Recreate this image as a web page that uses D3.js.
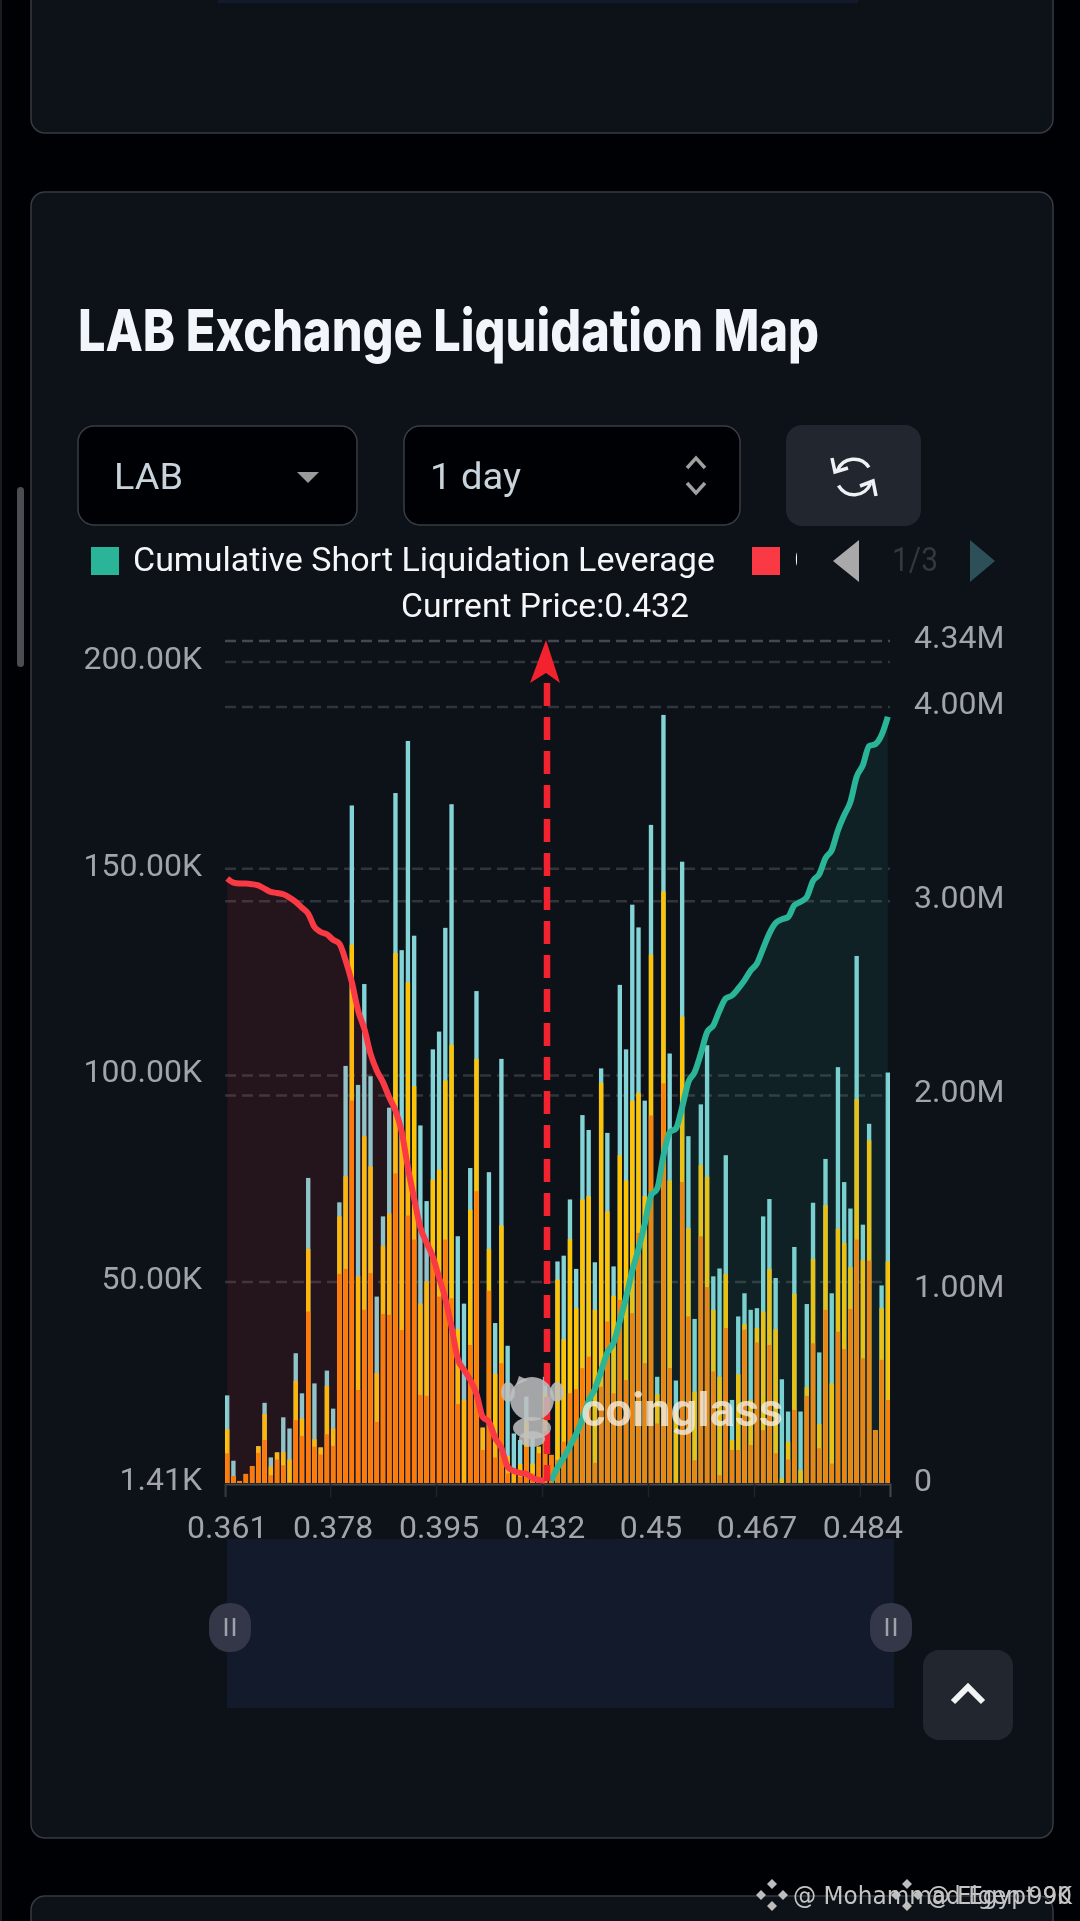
<!DOCTYPE html>
<html>
<head>
<meta charset="utf-8">
<title>LAB Exchange Liquidation Map</title>
<script src="https://cdn.jsdelivr.net/npm/d3@7/dist/d3.min.js"></script>
<style>
html, body { margin: 0; padding: 0; background: #000104; }
svg { display: block; filter: blur(0.5px); }
text { font-family: Roboto, sans-serif; }
</style>
</head>
<body>
<div id="viz"></div>
<script>
// left axis ticks (K) and right axis ticks (M), as printed
var leftTicks = [1.41, 50, 100, 150, 200];
var rightTicks = [0, 1, 2, 3, 4, 4.34];
var priceLabels = ["0.361", "0.378", "0.395", "0.432", "0.45", "0.467", "0.484"];
var priceBins = [0, 17, 34, 51, 68, 85, 102];

// stacked bars, top of each colour (K)
var orangeLevel = [8.6,3.1,1.9,3.6,5.5,8.7,11.8,3.3,7.1,5.7,
    1.6,16.6,12.8,42.9,10.2,8.3,13.2,10.4,52.0,53.2,
    93.9,23.9,43.3,52.2,16.2,42.3,42.1,76.3,38.4,66.1,
    60.3,22.7,22.5,56.2,46.5,60.3,46.1,20.5,1.5,34.8,
    72.0,9.4,47.9,7.6,30.4,3.7,1.5,2.9,10.2,3.7,
    8.6,18.3,8.2,7.0,11.4,23.1,24.1,29.2,32.0,6.3,
    24.7,40.5,23.1,45.7,26.3,42.5,61.9,30.4,90.3,15.8,
    98.1,29.2,1.5,74.2,41.7,6.9,61.1,48.8,28.4,3.3,
    38.9,9.4,9.4,38.5,10.6,35.4,14.2,34.8,8.6,1.4,
    7.1,19.1,1.4,22.5,35.2,9.8,43.3,6.1,38.0,33.8,
    43.5,60.3,31.6,55.2,14.2,31.2,21.5];
var yellowLevel = [14.4,3.1,1.9,3.6,5.5,10.3,18.1,5.4,8.8,8.9,
    7.1,26.1,17.0,58.0,12.0,10.0,24.9,14.6,65.9,75.6,
    131.6,51.4,85.3,78.0,28.0,58.8,66.6,129.6,86.1,122.5,
    97.4,44.8,50.2,74.8,77.2,98.8,107.4,38.6,21.5,67.5,
    104.0,14.8,58.0,27.8,63.7,7.9,3.7,6.0,16.2,6.1,
    10.2,23.1,8.2,50.6,36.2,60.4,43.7,70.0,70.8,43.3,
    98.2,67.1,46.7,80.7,74.6,93.9,95.8,70.8,129.2,22.9,
    144.5,74.6,18.7,114.2,63.1,23.5,78.3,75.5,43.3,27.1,
    52.0,11.8,27.7,39.9,21.5,38.9,42.9,53.2,38.6,2.5,
    11.4,47.2,4.5,24.6,55.6,15.7,68.6,25.5,62.9,59.5,
    53.6,94.3,55.4,84.3,14.2,43.7,55.0];
var tealLevel = [22.6,6.8,1.9,3.6,5.5,10.3,20.8,7.6,8.8,17.3,
    14.6,32.8,23.1,75.2,25.5,10.0,28.6,19.4,69.3,102.3,
    165.3,97.7,122.1,99.8,46.5,65.9,92.2,168.3,130.3,180.9,
    133.8,87.9,69.6,106.3,110.6,135.7,165.6,61.1,44.8,77.6,
    120.4,14.8,76.6,40.1,104.0,34.6,13.4,11.8,22.3,12.6,
    10.2,27.1,8.2,55.0,56.4,70.0,53.2,90.4,86.8,54.8,
    101.7,86.1,53.8,121.9,106.3,141.3,135.8,93.9,160.6,27.1,
    187.2,105.3,26.2,151.7,85.3,41.1,93.0,107.3,51.4,53.3,
    80.7,21.5,41.7,47.3,43.3,43.7,65.9,70.1,51.0,26.5,
    18.7,58.5,18.7,44.7,69.2,33.0,79.8,47.3,102.0,74.2,
    67.8,128.9,63.9,88.3,14.2,49.2,100.7];

// cumulative lines (M), one value per bin: long side runs from bin 0, short side from bin 52
var cumulativeLong = [3.117,3.096,3.091,3.091,3.088,3.082,3.065,3.048,3.043,3.036,
    3.019,2.997,2.967,2.937,2.868,2.842,2.830,2.802,2.782,2.696,
    2.584,2.438,2.344,2.215,2.129,2.069,1.991,1.923,1.814,1.629,
    1.469,1.320,1.242,1.170,1.062,0.954,0.809,0.644,0.588,0.536,
    0.464,0.345,0.320,0.237,0.186,0.088,0.067,0.057,0.052,0.031,
    0.021,0.015];
var cumulativeShort = [0.015,0.084,0.136,0.196,0.258,0.335,0.428,0.490,
    0.582,0.677,0.728,0.840,0.960,1.098,1.211,1.340,1.485,1.521,
    1.691,1.811,1.830,1.940,2.069,2.120,2.216,2.326,2.361,2.438,
    2.500,2.515,2.551,2.593,2.644,2.680,2.758,2.835,2.888,2.907,
    2.919,2.979,2.997,3.022,3.105,3.139,3.222,3.263,3.366,3.443,
    3.512,3.641,3.701,3.799,3.809,3.856,3.950];
var shortStart = 52;

var w = 1080;
var h = 1921;
var plotLeft = 225;
var plotRight = 890;
var plotBottom = 1483;

var svg = d3.select("#viz").append("svg")
    .attr("width", w)
    .attr("height", h);

//// CARDS ////
function box(x, y, bw, bh, r, fill, stroke) {
    return svg.append("rect")
        .attr("x", x).attr("y", y)
        .attr("width", bw).attr("height", bh)
        .attr("rx", r)
        .attr("fill", fill)
        .attr("stroke", stroke || "none")
        .attr("stroke-width", stroke ? 1.5 : 0);
}

function label(str, x, y, size, fill, len) {
    var t = svg.append("text")
        .attr("x", x).attr("y", y)
        .attr("font-size", size)
        .attr("fill", fill)
        .text(str);
    if (len) {
        t.attr("textLength", len).attr("lengthAdjust", "spacingAndGlyphs");
    }
    return t;
}

function poly(points, fill) {
    return svg.append("polygon")
        .attr("points", points.map(function(p) { return p.join(","); }).join(" "))
        .attr("fill", fill);
}

box(31, -40, 1022, 173, 14, "#0d1118", "#363a42");
box(218, -10, 640, 13, 0, "#121a2b");
box(31, 192, 1022, 1646, 14, "#0d1118", "#363a42");
box(31, 1896, 1022, 80, 14, "#0d1118", "#363a42");

// scrollbar on the left edge
box(17, 487, 7, 180, 3.5, "#4a4d52");
box(0, 0, 2, h, 0, "#1a1c20");

//// HEADER ////
label("LAB Exchange Liquidation Map", 78, 351, 58, "#f2f5fa", 741)
    .style("font-family", "Inter, sans-serif")
    .attr("font-weight", 800);

box(78, 426, 279, 99, 16, "#000104", "#3a3d45");
box(404, 426, 336, 99, 16, "#000104", "#3a3d45");
box(786, 425, 135, 101, 16, "#22262e");

label("LAB", 114, 489, 37, "#c9d3dc", 69);
label("1 day", 430, 489, 37, "#c9d3dc", 91);
poly([[297, 472], [319, 472], [308, 483]], "#9a9a9a");

var chevron = d3.line();
[[[687, 468], [696, 458], [705, 468]], [[687, 483], [696, 493], [705, 483]]].forEach(function(c) {
    svg.append("path").attr("d", chevron(c))
        .attr("fill", "none").attr("stroke", "#a0a0a0").attr("stroke-width", 3.5);
});

// refresh icon
var iconArc = d3.arc().innerRadius(16).outerRadius(19.5);
svg.append("path").attr("transform", "translate(854,477)")
    .attr("d", iconArc({startAngle: -1.2, endAngle: 1.0})).attr("fill", "#eef2f5");
svg.append("path").attr("transform", "translate(854,477)")
    .attr("d", iconArc({startAngle: 1.95, endAngle: 4.2})).attr("fill", "#eef2f5");
[[[832, 458], [835, 472], [848, 468]], [[876, 496], [873, 481], [860, 486]]].forEach(function(c) {
    svg.append("path").attr("d", chevron(c))
        .attr("fill", "none").attr("stroke", "#eef2f5").attr("stroke-width", 3.5);
});

//// LEGEND ////
box(91, 547, 28, 28, 0, "#2bb598");
label("Cumulative Short Liquidation Leverage", 133, 571, 33, "#f4f6f8", 582);
box(752, 547, 28, 28, 0, "#f93a45");
label("C", 794, 571, 33, "#f4f6f8").attr("clip-path", "url(#legendCut)");
svg.append("clipPath").attr("id", "legendCut").append("rect")
    .attr("x", 790).attr("y", 540).attr("width", 7).attr("height", 40);
poly([[833, 561], [859, 540], [859, 582]], "#a9a9a9");
label("1/3", 892, 571, 33, "#34373b", 46);
poly([[970, 540], [995, 561], [970, 582]], "#2d4f58");

label("Current Price:0.432", 401, 617, 33, "#f4f6f8", 288);

//// SCALES ////
var xScale = d3.scaleBand()
    .domain(d3.range(tealLevel.length))
    .range([plotLeft, plotRight])
    .paddingInner(0.3);

var yLeft = d3.scaleLinear()
    .domain([1.41, 200])
    .range([plotBottom, 662]);

var yRight = d3.scaleLinear()
    .domain([0, 4.34])
    .range([plotBottom + 1, 641]);

//// GRID ////
function gridLines(ticks, scale) {
    svg.append("g").selectAll("line")
        .data(ticks.filter(function(d) { return d > 1.41; }))
        .enter()
        .append("line")
        .attr("x1", plotLeft)
        .attr("x2", plotRight)
        .attr("y1", function(d) { return scale(d); })
        .attr("y2", function(d) { return scale(d); })
        .attr("stroke", function(d) { return d === 4.34 ? "#45484e" : "#31343a"; })
        .attr("stroke-width", 2.5)
        .attr("stroke-dasharray", "11,6");
}
gridLines(leftTicks, yLeft);
gridLines(rightTicks, yRight);

//// BARS ////
function bars(levels, color) {
    svg.append("g").selectAll("rect")
        .data(levels)
        .enter()
        .append("rect")
        .attr("x", function(d, i) { return xScale(i); })
        .attr("y", function(d) { return yLeft(d); })
        .attr("width", xScale.bandwidth())
        .attr("height", function(d) { return plotBottom - yLeft(d); })
        .attr("fill", color);
}
bars(tealLevel, "#84d3d6");
bars(yellowLevel, "#ffc306");
bars(orangeLevel, "#ff8006");

//// CUMULATIVE AREAS AND LINES ////
var centerX = function(i) { return xScale(i) + xScale.bandwidth() / 2; };

var longArea = d3.area()
    .x(function(d, i) { return centerX(i); })
    .y0(plotBottom)
    .y1(function(d) { return yRight(d); })
    .curve(d3.curveMonotoneX);
var shortArea = d3.area()
    .x(function(d, i) { return centerX(i + shortStart); })
    .y0(plotBottom)
    .y1(function(d) { return yRight(d); })
    .curve(d3.curveMonotoneX);

svg.append("path").attr("d", longArea(cumulativeLong))
    .attr("fill", "#f93a45").attr("fill-opacity", 0.1);
svg.append("path").attr("d", shortArea(cumulativeShort))
    .attr("fill", "#2bb598").attr("fill-opacity", 0.1);

svg.append("path").attr("d", longArea.lineY1()(cumulativeLong))
    .attr("fill", "none").attr("stroke", "#f93a45").attr("stroke-width", 6);
svg.append("path").attr("d", shortArea.lineY1()(cumulativeShort))
    .attr("fill", "none").attr("stroke", "#2bb598").attr("stroke-width", 6);

//// CURRENT PRICE MARKER ////
svg.append("line")
    .attr("x1", 547).attr("x2", 547)
    .attr("y1", 683).attr("y2", 1481)
    .attr("stroke", "#f2222f")
    .attr("stroke-width", 6.5)
    .attr("stroke-dasharray", "23,11");
poly([[546, 640], [560, 683], [546, 673], [530, 683]], "#f2222f");

//// AXES ////
var xAxis = d3.axisBottom(xScale)
    .tickValues(priceBins)
    .tickSize(13)
    .tickPadding(18)
    .tickFormat(function(d, i) { return priceLabels[i]; });

var leftAxis = d3.axisLeft(yLeft)
    .tickValues(leftTicks)
    .tickSize(0)
    .tickPadding(23)
    .tickFormat(function(d) { return d === 1.41 ? "1.41K" : d3.format(".2f")(d) + "K"; });

var rightAxis = d3.axisRight(yRight)
    .tickValues(rightTicks)
    .tickSize(0)
    .tickPadding(24)
    .tickFormat(function(d) { return d === 0 ? "0" : d3.format(".2f")(d) + "M"; });

var gx = svg.append("g")
    .attr("transform", "translate(0," + (plotBottom + 1) + ")")
    .call(xAxis);
gx.select(".domain").attr("stroke", "#45474a").attr("stroke-width", 2);
gx.selectAll(".tick line").attr("x1", -2.5).attr("x2", -2.5).attr("stroke", "#202328").attr("stroke-width", 1.5);

var gl = svg.append("g")
    .attr("transform", "translate(" + plotLeft + ",0)")
    .call(leftAxis);
var gr = svg.append("g")
    .attr("transform", "translate(" + plotRight + ",0)")
    .call(rightAxis);

[gl, gr].forEach(function(g) {
    g.select(".domain").remove();
    g.selectAll(".tick text").attr("dy", "0.2em");
});
[gx, gl, gr].forEach(function(g) {
    g.selectAll(".tick text")
        .attr("fill", "#a1a5a9")
        .attr("font-size", 32)
        .style("font-family", "Roboto, sans-serif");
});

//// COINGLASS WATERMARK ////
var mascot = "rgba(192,192,192,0.85)";
var mascotParts = svg.append("g").attr("fill", mascot);
[[532, 1399, 22, 22], [508, 1392, 7, 10], [557, 1392, 7, 10], [532, 1428, 19, 11], [532, 1439, 13, 8]].forEach(function(e) {
    mascotParts.append("ellipse")
        .attr("cx", e[0]).attr("cy", e[1])
        .attr("rx", e[2]).attr("ry", e[3]);
});
mascotParts.append("polygon").attr("points", "516,1385 519,1376 528,1380");
label("coinglass", 581, 1426, 47, "rgba(245,240,230,0.78)", 202)
    .attr("font-weight", 700);

//// SLIDER AND BACK TO TOP ////
box(227, 1539, 667, 169, 0, "#121a2b");
[230, 891].forEach(function(cx) {
    box(cx - 21, 1603, 42, 49, 20, "#333748");
    [-4, 4].forEach(function(dx) {
        svg.append("line")
            .attr("x1", cx + dx).attr("x2", cx + dx)
            .attr("y1", 1618).attr("y2", 1636)
            .attr("stroke", "#9ea2aa").attr("stroke-width", 2.5);
    });
});

box(923, 1650, 90, 90, 16, "#22262e");
svg.append("path")
    .attr("d", chevron([[953, 1702], [968, 1687], [983, 1702]]))
    .attr("fill", "none").attr("stroke", "#f2f4f6").attr("stroke-width", 6);

//// POST WATERMARKS ////
function diamond(cx, cy) {
    [[0, -11], [0, 11], [-11, 0], [11, 0]].forEach(function(o) {
        poly([[cx + o[0], cy + o[1] - 5], [cx + o[0] + 5, cy + o[1]], [cx + o[0], cy + o[1] + 5], [cx + o[0] - 5, cy + o[1]]], "#bdbdbd");
    });
}
diamond(772, 1895);
diamond(907, 1895);
label("@ Mohammad Egypt 90", 793, 1904, 24, "#c4c4c4", 279)
    .style("font-family", "'DejaVu Sans', sans-serif");
label("@ Elgen 99K", 927, 1904, 24, "#c4c4c4", 145)
    .style("font-family", "'DejaVu Sans', sans-serif");
</script>
</body>
</html>
